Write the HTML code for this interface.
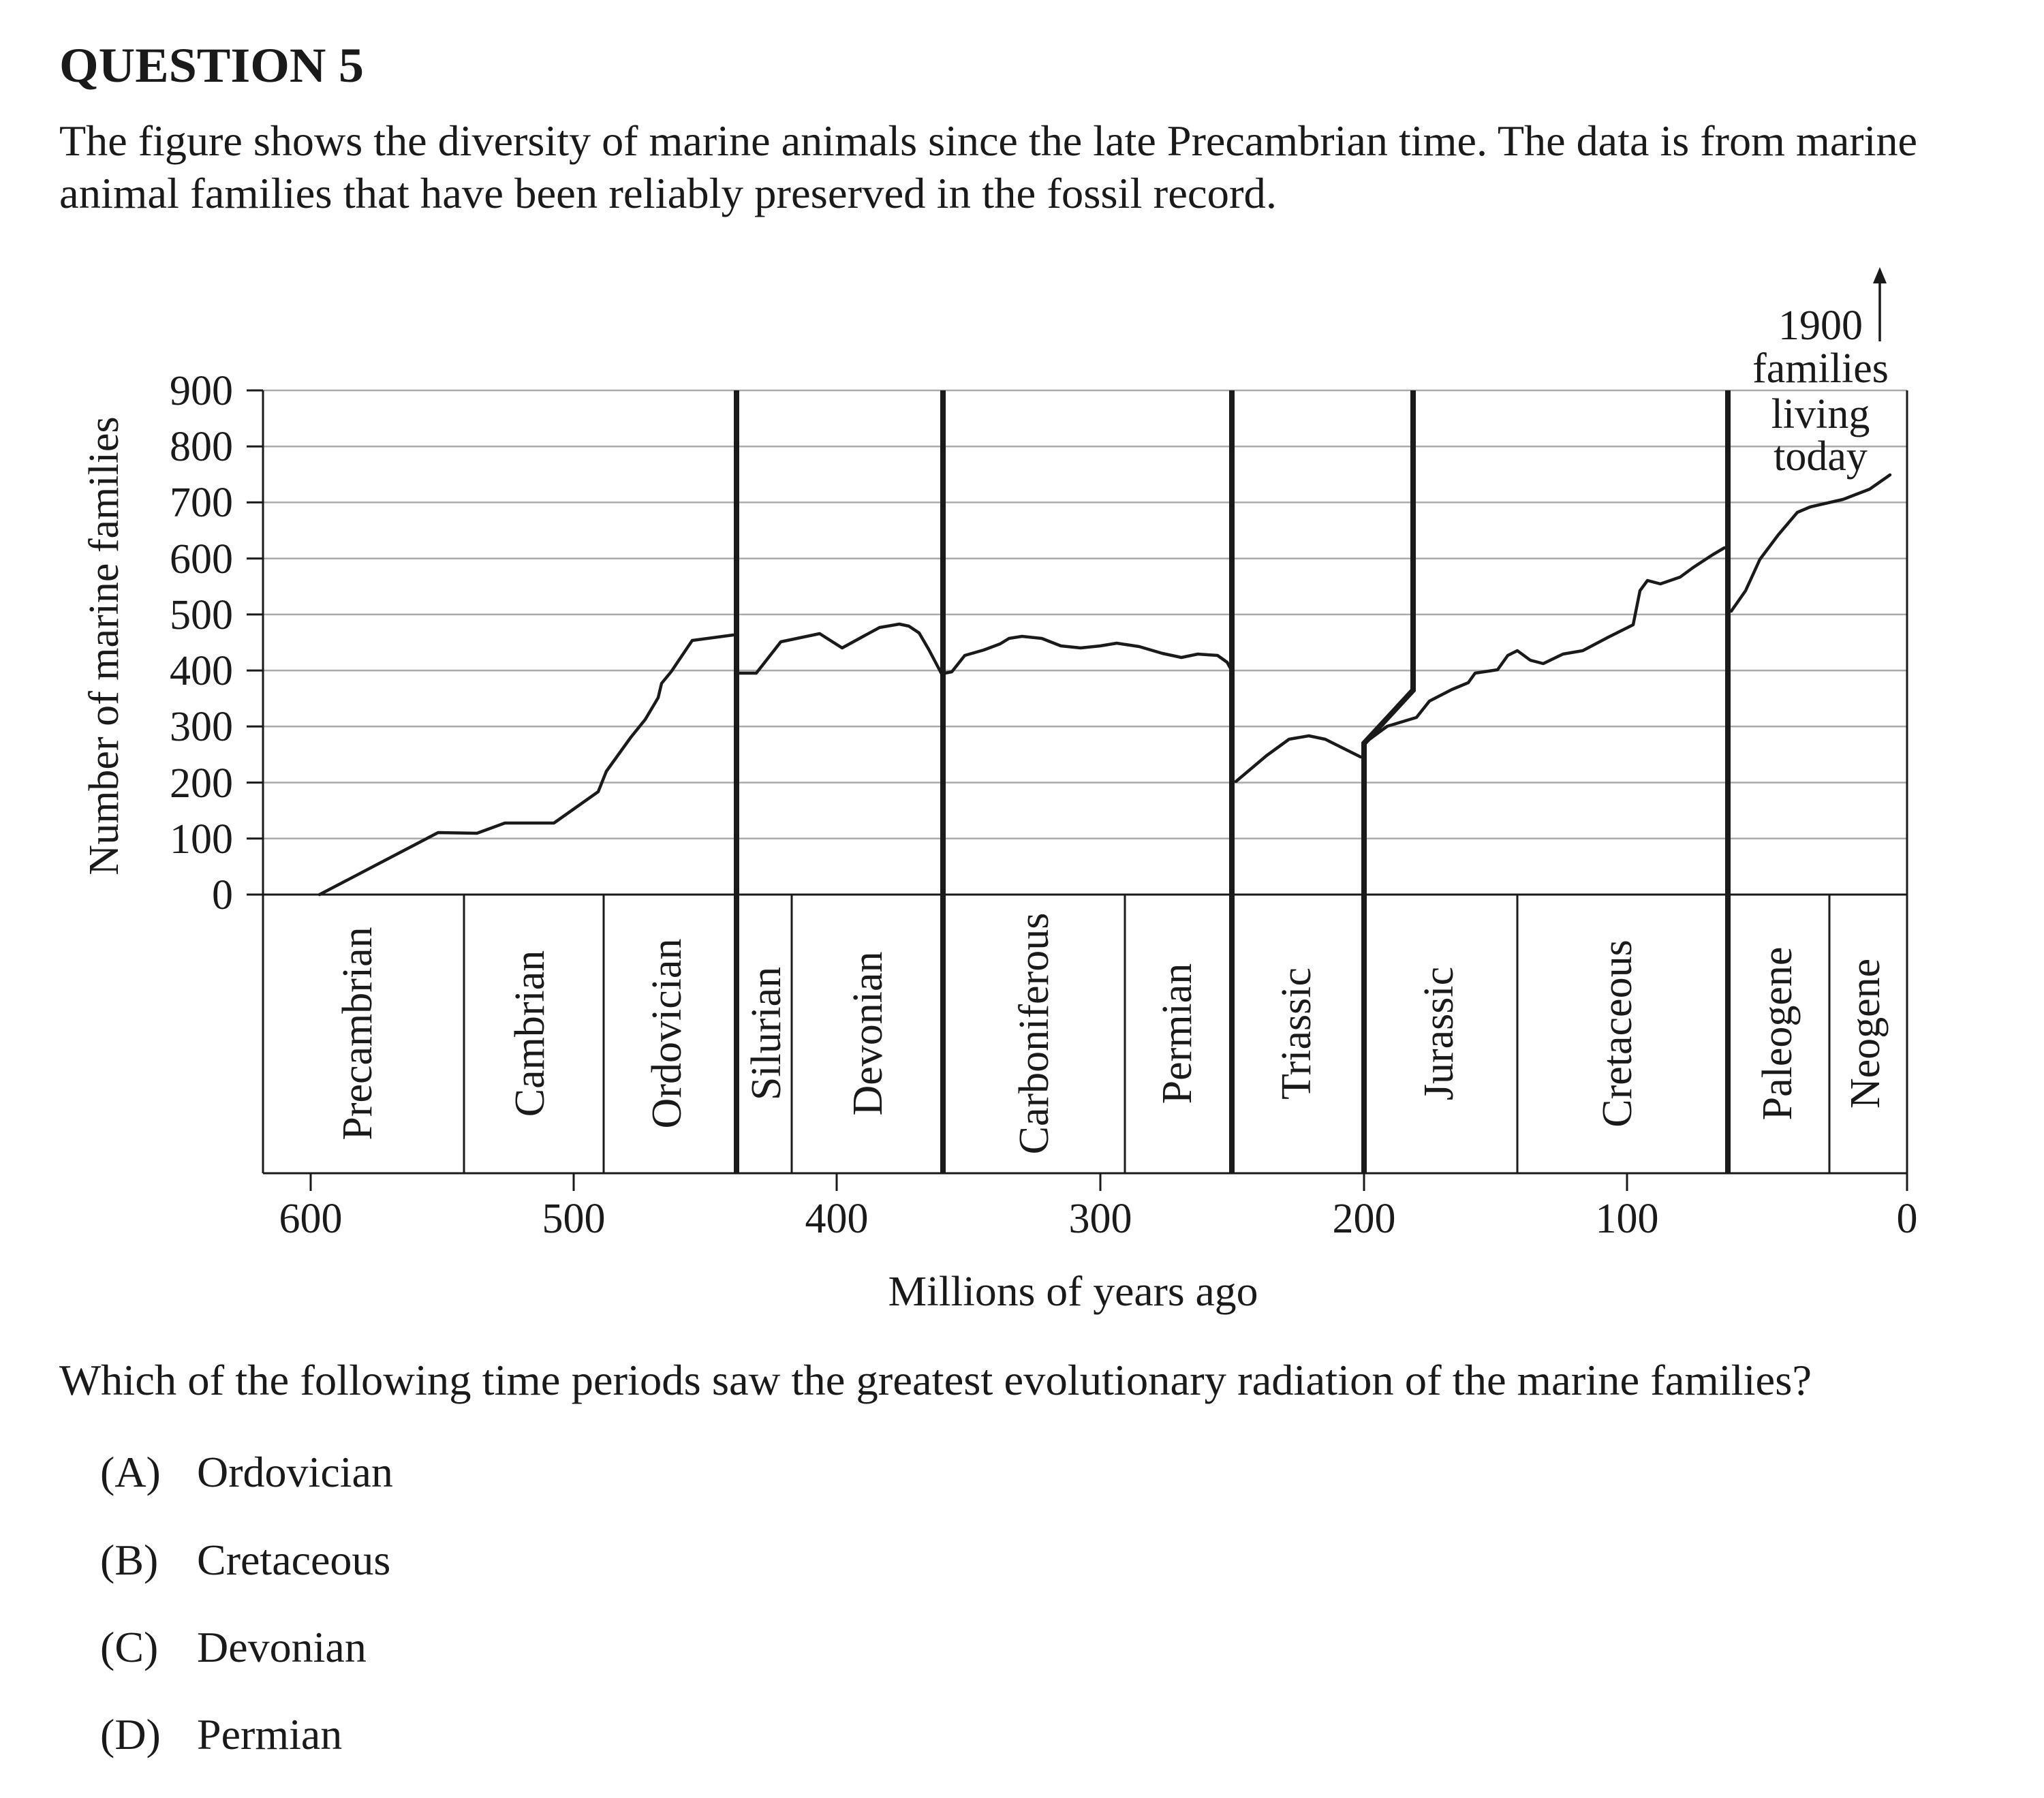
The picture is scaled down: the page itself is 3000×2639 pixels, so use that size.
<!DOCTYPE html>
<html><head><meta charset="utf-8"><style>
html,body{margin:0;padding:0;background:#fff;}
svg{display:block;}
text{font-family:"Liberation Serif","Times New Roman",serif;fill:#1a1a1a;}
</style></head><body>
<svg width="3000" height="2639" viewBox="0 0 3000 2639" xmlns="http://www.w3.org/2000/svg">
<rect width="3000" height="2639" fill="#fff"/>
<text x="87" y="120" font-size="72" font-weight="bold" textLength="447" lengthAdjust="spacingAndGlyphs">QUESTION 5</text>
<text x="87" y="228" font-size="63" textLength="2727" lengthAdjust="spacingAndGlyphs">The figure shows the diversity of marine animals since the late Precambrian time. The data is from marine</text>
<text x="87" y="305" font-size="63" textLength="1787" lengthAdjust="spacingAndGlyphs">animal families that have been reliably preserved in the fossil record.</text>

<g stroke="#aaa" stroke-width="2.5">
<line x1="386" y1="573" x2="2799" y2="573"/>
<line x1="386" y1="655.2" x2="2799" y2="655.2"/>
<line x1="386" y1="737.4" x2="2799" y2="737.4"/>
<line x1="386" y1="819.7" x2="2799" y2="819.7"/>
<line x1="386" y1="901.9" x2="2799" y2="901.9"/>
<line x1="386" y1="984.1" x2="2799" y2="984.1"/>
<line x1="386" y1="1066.3" x2="2799" y2="1066.3"/>
<line x1="386" y1="1148.6" x2="2799" y2="1148.6"/>
<line x1="386" y1="1230.8" x2="2799" y2="1230.8"/>
</g>
<g stroke="#1a1a1a" stroke-width="3" fill="none">
<line x1="386" y1="573" x2="386" y2="1722"/>
<line x1="2799" y1="573" x2="2799" y2="1748"/>
<line x1="362" y1="1313" x2="2799" y2="1313"/>
<line x1="386" y1="1722" x2="2799" y2="1722"/>
<line x1="362" y1="573" x2="386" y2="573"/>
<line x1="362" y1="655.2" x2="386" y2="655.2"/>
<line x1="362" y1="737.4" x2="386" y2="737.4"/>
<line x1="362" y1="819.7" x2="386" y2="819.7"/>
<line x1="362" y1="901.9" x2="386" y2="901.9"/>
<line x1="362" y1="984.1" x2="386" y2="984.1"/>
<line x1="362" y1="1066.3" x2="386" y2="1066.3"/>
<line x1="362" y1="1148.6" x2="386" y2="1148.6"/>
<line x1="362" y1="1230.8" x2="386" y2="1230.8"/>
<line x1="681" y1="1313" x2="681" y2="1722"/>
<line x1="886" y1="1313" x2="886" y2="1722"/>
<line x1="1162" y1="1313" x2="1162" y2="1722"/>
<line x1="1651" y1="1313" x2="1651" y2="1722"/>
<line x1="2227" y1="1313" x2="2227" y2="1722"/>
<line x1="2685" y1="1313" x2="2685" y2="1722"/>
<line x1="456" y1="1722" x2="456" y2="1748"/>
<line x1="842" y1="1722" x2="842" y2="1748"/>
<line x1="1228" y1="1722" x2="1228" y2="1748"/>
<line x1="1615" y1="1722" x2="1615" y2="1748"/>
<line x1="2002" y1="1722" x2="2002" y2="1748"/>
<line x1="2388" y1="1722" x2="2388" y2="1748"/>
</g>
<g stroke="#1a1a1a" stroke-width="8" fill="none">
<line x1="1081" y1="573" x2="1081" y2="1722"/>
<line x1="1384" y1="573" x2="1384" y2="1722"/>
<line x1="1808" y1="573" x2="1808" y2="1722"/>
<line x1="2536" y1="573" x2="2536" y2="1722"/>
<polyline points="2002,1722 2002,1091 2074,1013 2074,573"/>
</g>
<g stroke="#1a1a1a" stroke-width="4.5" fill="none" stroke-linejoin="round" stroke-linecap="round">
<polyline points="469,1313 643,1222 700,1223 741,1208 813,1208 878,1162 890,1132 926,1082 947,1056 966,1024 971,1003 985,986 1016,940 1076,932"/>
<polyline points="1083,988 1110,988 1146,942 1203,930 1236,951 1267,934 1291,921 1320,916 1334,919 1349,929 1363,953 1382,989 1397,986 1416,962 1444,954 1468,945 1481,937 1500,934 1529,937 1557,948 1586,951 1615,948 1639,944 1672,949 1706,959 1734,965 1758,960 1787,962 1801,972 1806,981"/>
<polyline points="1814,1147 1859,1109 1892,1085 1921,1080 1945,1085 1969,1097 1997,1111"/>
<polyline points="2002,1091 2036,1066 2079,1053 2098,1029 2131,1012 2155,1002 2165,988 2198,983 2213,962 2227,955 2246,969 2265,974 2294,960 2323,955 2361,935 2397,917 2407,867 2418,852 2437,857 2466,847 2485,833 2514,814 2531,804"/>
<polyline points="2541,897 2562,867 2583,821 2610,785 2638,752 2657,744 2705,733 2744,718 2774,697"/>
</g>
<line x1="2759" y1="501" x2="2759" y2="410" stroke="#1a1a1a" stroke-width="3.5"/>
<polygon points="2759,392 2749,416 2769,416" fill="#1a1a1a"/>
<g font-size="62" text-anchor="middle">
<text x="2672" y="498">1900</text>
<text x="2672" y="561">families</text>
<text x="2672" y="628">living</text>
<text x="2672" y="690">today</text>
</g>
<g font-size="62" text-anchor="end">
<text x="342" y="594">900</text>
<text x="342" y="676">800</text>
<text x="342" y="758">700</text>
<text x="342" y="841">600</text>
<text x="342" y="923">500</text>
<text x="342" y="1005">400</text>
<text x="342" y="1087">300</text>
<text x="342" y="1170">200</text>
<text x="342" y="1252">100</text>
<text x="342" y="1334">0</text>
</g>
<text transform="translate(173,948) rotate(-90)" font-size="62" text-anchor="middle">Number of marine families</text>
<g font-size="62" text-anchor="middle">
<text x="456" y="1809">600</text>
<text x="842" y="1809">500</text>
<text x="1228" y="1809">400</text>
<text x="1615" y="1809">300</text>
<text x="2002" y="1809">200</text>
<text x="2388" y="1809">100</text>
<text x="2799" y="1809">0</text>
</g>
<text x="1575" y="1916" font-size="62" text-anchor="middle" textLength="543" lengthAdjust="spacingAndGlyphs">Millions of years ago</text>
<g font-size="62" text-anchor="middle">
<text transform="translate(545,1517) rotate(-90)">Precambrian</text>
<text transform="translate(798,1517) rotate(-90)">Cambrian</text>
<text transform="translate(999,1517) rotate(-90)">Ordovician</text>
<text transform="translate(1145,1517) rotate(-90)">Silurian</text>
<text transform="translate(1294,1517) rotate(-90)">Devonian</text>
<text transform="translate(1538,1517) rotate(-90)">Carboniferous</text>
<text transform="translate(1748,1517) rotate(-90)">Permian</text>
<text transform="translate(1923,1517) rotate(-90)">Triassic</text>
<text transform="translate(2132,1517) rotate(-90)">Jurassic</text>
<text transform="translate(2394,1517) rotate(-90)">Cretaceous</text>
<text transform="translate(2629,1517) rotate(-90)">Paleogene</text>
<text transform="translate(2758,1517) rotate(-90)">Neogene</text>
</g>
<text x="87" y="2047" font-size="64" textLength="2572" lengthAdjust="spacingAndGlyphs">Which of the following time periods saw the greatest evolutionary radiation of the marine families?</text>
<g font-size="64">
<text x="147" y="2182">(A)</text><text x="289" y="2182">Ordovician</text>
<text x="147" y="2311">(B)</text><text x="289" y="2311">Cretaceous</text>
<text x="147" y="2439">(C)</text><text x="289" y="2439">Devonian</text>
<text x="147" y="2567">(D)</text><text x="289" y="2567">Permian</text>
</g>
</svg>
</body></html>
